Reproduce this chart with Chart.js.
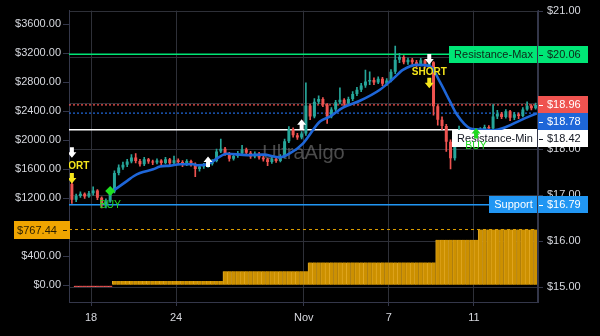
<!DOCTYPE html>
<html>
<head>
<meta charset="utf-8">
<script src="https://cdn.jsdelivr.net/npm/chart.js@4.4.1/dist/chart.umd.min.js"></script>
<style>
  html, body { margin: 0; padding: 0; background: #000; }
  #wrap { width: 600px; height: 336px; }
</style>
</head>
<body>
<div id="wrap"><canvas id="c" width="600" height="336"></canvas></div>
<script>
// ---- axis ticks ----
const xTickVals = [5, 25, 55, 75, 95];
const xTickLabels = ['18', '24', 'Nov', '7', '11'];
const rightTicks = [15, 16, 17, 18, 19, 20, 21];
const leftTicks = [0, 400, 800, 1200, 1600, 2000, 2400, 2800, 3200, 3600];

// ---- price bars (5 bars per session, Oct 17 .. Nov 15) ----
const firstOpen = 17.24;
const closes = [
  16.90, 16.98, 17.03, 16.97, 17.04,
  17.10, 16.94, 16.80, 16.86, 17.08,
  17.48, 17.60, 17.66, 17.73, 17.82,
  17.74, 17.67, 17.78, 17.73, 17.71,
  17.75, 17.70, 17.78, 17.69, 17.76,
  17.72, 17.66, 17.74, 17.67, 17.57,
  17.62, 17.64, 17.68, 17.74, 17.95,
  18.01, 17.90, 17.79, 17.85, 17.91,
  17.99, 17.92, 17.84, 17.90, 17.82,
  17.78, 17.72, 17.79, 17.74, 17.84,
  18.17, 18.43, 18.30, 18.25, 18.34,
  18.95, 18.71, 19.03, 19.09, 18.97,
  18.71, 18.86, 19.02, 19.07, 18.99,
  19.09, 19.20, 19.29, 19.38, 19.47,
  19.50, 19.45, 19.53, 19.42, 19.49,
  19.68, 19.94, 20.00, 19.89, 19.94,
  19.89, 19.84, 19.93, 19.82, 19.89,
  18.93, 18.64, 18.50, 18.16, 17.80,
  18.17, 18.38, 18.28, 18.33, 18.24,
  18.38, 18.43, 18.48, 18.45, 18.71,
  18.77, 18.70, 18.82, 18.68, 18.76,
  18.72, 18.86, 18.94, 18.89, 18.96
];
const highs = [
  17.30, 17.02, 17.07, 17.05, 17.08,
  17.18, 17.12, 16.96, 16.92, 17.12,
  17.53, 17.66, 17.72, 17.78, 17.88,
  17.90, 17.78, 17.82, 17.80, 17.76,
  17.79, 17.77, 17.82, 17.80, 17.85,
  17.79, 17.75, 17.77, 17.76, 17.70,
  17.66, 17.69, 17.71, 17.77, 18.00,
  18.22, 18.04, 17.93, 17.89, 17.95,
  18.08, 18.02, 17.95, 17.94, 17.93,
  17.86, 17.80, 17.82, 17.83, 17.88,
  18.22, 18.49, 18.46, 18.34, 18.38,
  19.44, 18.98, 19.10, 19.16, 19.12,
  18.99, 18.90, 19.06, 19.33, 19.10,
  19.13, 19.25, 19.34, 19.43, 19.72,
  19.68, 19.55, 19.57, 19.56, 19.53,
  19.73, 20.24, 20.08, 20.03, 19.98,
  19.97, 19.93, 19.97, 19.95, 19.93,
  19.90, 18.96, 18.70, 18.54, 18.20,
  18.22, 18.50, 18.41, 18.37, 18.36,
  18.43, 18.47, 18.52, 18.51, 18.97,
  18.84, 18.80, 18.86, 18.84, 18.80,
  18.79, 18.90, 19.03, 18.97, 19.00
];
const lows = [
  16.82, 16.86, 16.95, 16.93, 16.95,
  17.00, 16.90, 16.72, 16.72, 16.84,
  17.05, 17.44, 17.56, 17.62, 17.70,
  17.70, 17.63, 17.64, 17.69, 17.66,
  17.68, 17.66, 17.68, 17.65, 17.67,
  17.68, 17.62, 17.64, 17.63, 17.40,
  17.52, 17.58, 17.60, 17.65, 17.72,
  17.92, 17.86, 17.74, 17.76, 17.82,
  17.88, 17.87, 17.80, 17.81, 17.78,
  17.74, 17.64, 17.69, 17.71, 17.72,
  17.82, 18.14, 18.26, 18.21, 18.22,
  18.30, 18.64, 18.68, 18.99, 18.92,
  18.56, 18.68, 18.82, 18.98, 18.94,
  18.95, 19.05, 19.16, 19.25, 19.34,
  19.40, 19.40, 19.42, 19.38, 19.38,
  19.46, 19.64, 19.88, 19.85, 19.84,
  19.84, 19.78, 19.81, 19.76, 19.79,
  18.74, 18.52, 18.42, 17.95, 17.57,
  17.76, 18.12, 18.22, 18.20, 18.20,
  18.20, 18.33, 18.39, 18.40, 18.42,
  18.66, 18.66, 18.67, 18.62, 18.64,
  18.66, 18.70, 18.84, 18.85, 18.87
];

// ---- trend average (bar position, price) ----
const maX = [9.5, 13.5, 15, 16.5, 19.6, 21.2, 23.6, 26, 29, 30, 32.3, 37, 41.7, 45.4, 49.4, 51.8, 54.8, 58.8, 61.2, 64.2, 68.2, 72.9, 76, 78.3, 81.6, 84.7, 87, 89.4, 91, 94.1, 95.7, 99.5, 102.8, 105.8, 109.8];
const maY = [17.05, 17.31, 17.41, 17.48, 17.56, 17.62, 17.64, 17.67, 17.67, 17.65, 17.67, 17.90, 17.87, 17.88, 17.82, 17.91, 18.12, 18.60, 18.71, 18.90, 19.05, 19.29, 19.53, 19.72, 19.83, 19.80, 19.46, 19.03, 18.75, 18.45, 18.43, 18.41, 18.49, 18.62, 18.78];

// ---- strategy equity, stepped (first bar of each step, value) ----
const equityStart = [0, 1, 10, 36, 56, 86, 96];
const equityValue = [0, -25, 58, 191, 314, 627, 767.44];

// ---- horizontal levels ----
const levelValues = [20.06, 18.96, 18.78, 18.42, 16.79];
const levelNames = ['Resistance-Max', '', '', 'Resistance-Min', 'Support'];
const equityLast = 767.44;

// ---- signal markers ----
const markBar   = [0, 0, 0, 9, 9, 32, 54, 84, 84, 84, 95, 95];
const markPrice = [17.93, 17.63, 17.37, 17.09, 16.79, 17.72, 18.53, 19.96, 19.66, 19.44, 18.34, 18.06];
const markKind  = ['downW', 'short', 'downY', 'diamond', 'buy', 'upW', 'upW', 'downW', 'short', 'downY', 'upG', 'buy'];

// ------------------------------------------------------------------
const FONT = "'Liberation Sans', Arial, sans-serif";
Chart.defaults.font.family = FONT;
Chart.defaults.font.size = 11;

const X_MIN = -0.18, X_MAX = 110.06;
const UP = '#26a69a', DN = '#ef5350';
const GRID = '#2e3038', BORDER = '#34374a', TXT = '#d6d8de';
const levelLine = ['#00e676', '#ef5350', '#1e66d8', '#ffffff', '#2196f3'];
const levelDash = [[], [2, 2], [2, 2], [], []];
const levelFill = ['#00e676', '#ef5350', '#1e66d8', '#ffffff', '#2196f3'];
const levelInk  = ['#0d2618', '#ffffff', '#ffffff', '#131722', '#ffffff'];

const opens = closes.map((c, i) => i === 0 ? firstOpen : closes[i - 1]);
const bodies = closes.map((c, i) => ({ x: i + 0.5, y: [opens[i], c] }));
const wicks = closes.map((c, i) => ({ x: i + 0.5, y: [lows[i], highs[i]] }));
const candleColor = ctx => {
  const i = ctx.dataIndex;
  if (i === undefined) return UP;
  return closes[i] >= opens[i] ? UP : DN;
};

const equity = closes.map((c, i) => {
  let v = 0;
  equityStart.forEach((s, k) => { if (i >= s) v = equityValue[k]; });
  return { x: i + 0.5, y: v };
});

const maData = maX.map((x, i) => ({ x, y: maY[i] }));

const levelSets = levelValues.map((v, i) => ({
  type: 'line',
  data: [{ x: X_MIN, y: v }, { x: X_MAX, y: v }],
  yAxisID: 'yR',
  borderColor: levelLine[i],
  borderWidth: (i === 1 || i === 2) ? 1.2 : 1.6,
  borderDash: levelDash[i],
  pointRadius: 0,
  order: 8
}));

const watermark = {
  id: 'watermark',
  beforeDatasetsDraw(chart) {
    const { ctx, chartArea: a } = chart;
    ctx.save();
    ctx.font = '20px ' + FONT;
    ctx.fillStyle = 'rgba(125,125,125,0.6)';
    ctx.textAlign = 'center';
    ctx.textBaseline = 'middle';
    ctx.fillText('UltraAlgo', (a.left + a.right) / 2, (a.top + a.bottom) / 2 - 3);
    ctx.restore();
  }
};

function arrow(ctx, x, y, dir, color) {
  // dir: 1 points down, -1 points up
  ctx.fillStyle = color;
  ctx.beginPath();
  ctx.moveTo(x - 2, y - dir * 5);
  ctx.lineTo(x + 2, y - dir * 5);
  ctx.lineTo(x + 2, y);
  ctx.lineTo(x + 4.5, y);
  ctx.lineTo(x, y + dir * 5.5);
  ctx.lineTo(x - 4.5, y);
  ctx.lineTo(x - 2, y);
  ctx.closePath();
  ctx.fill();
}

const overlay = {
  id: 'overlay',
  afterDraw(chart) {
    const { ctx, chartArea: a, scales } = chart;
    const yR = scales.yR, yL = scales.yL, xs = scales.x;
    ctx.save();
    ctx.font = '11px ' + FONT;
    ctx.textBaseline = 'middle';

    // level tags on the price scale, stacked so they never overlap
    const H = 17;
    const idx = levelValues.map((v, i) => i)
      .sort((p, q) => yR.getPixelForValue(levelValues[p]) - yR.getPixelForValue(levelValues[q]));
    const tops = [];
    let prevBottom = -1e9;
    idx.forEach(i => {
      let t = Math.round(yR.getPixelForValue(levelValues[i]) - H / 2);
      if (t < prevBottom) t = prevBottom;
      tops[i] = t;
      prevBottom = t + H;
    });
    levelValues.forEach((v, i) => {
      const t = tops[i];
      ctx.fillStyle = levelFill[i];
      ctx.fillRect(a.right, t, 50, H);
      if (levelNames[i]) {
        const w = Math.round(ctx.measureText(levelNames[i]).width + 10);
        ctx.fillRect(a.right - w, t, w, H);
        ctx.fillStyle = levelInk[i];
        ctx.textAlign = 'center';
        ctx.fillText(levelNames[i], a.right - w / 2, t + H / 2 + 0.5);
      }
      ctx.fillStyle = levelInk[i];
      ctx.textAlign = 'left';
      ctx.fillText('$' + v.toFixed(2), a.right + 9, t + H / 2 + 0.5);
      ctx.fillRect(a.right + 1, Math.round(t + H / 2), 4, 1);
    });

    // price-scale border drawn over the tags
    ctx.fillStyle = BORDER;
    ctx.fillRect(Math.round(a.right) - 1, a.top, 1, a.bottom - a.top);

    // equity tag on the left scale
    const ey = Math.round(yL.getPixelForValue(equityLast));
    ctx.fillStyle = '#f0a500';
    ctx.fillRect(14, ey - 9, a.left - 14 + 1, 18);
    ctx.fillStyle = '#2a1e00';
    ctx.textAlign = 'center';
    ctx.fillText('$' + equityLast.toFixed(2), 37, ey + 0.5);
    ctx.fillRect(a.left - 6, ey, 4, 1);

    // signal markers
    ctx.beginPath();
    ctx.rect(a.left, a.top, a.right - a.left, a.bottom - a.top);
    ctx.clip();
    markBar.forEach((b, k) => {
      const x = xs.getPixelForValue(b + 0.5);
      const y = yR.getPixelForValue(markPrice[k]);
      const kind = markKind[k];
      if (kind === 'downW') arrow(ctx, x, y, 1, '#ffffff');
      else if (kind === 'downY') arrow(ctx, x, y, 1, '#f5e51b');
      else if (kind === 'upW') arrow(ctx, x, y, -1, '#ffffff');
      else if (kind === 'upG') arrow(ctx, x, y, -1, '#1fd81f');
      else if (kind === 'diamond') {
        ctx.fillStyle = '#1fe01f';
        ctx.beginPath();
        ctx.moveTo(x, y - 5); ctx.lineTo(x + 5, y); ctx.lineTo(x, y + 5); ctx.lineTo(x - 5, y);
        ctx.closePath(); ctx.fill();
      } else if (kind === 'short') {
        ctx.font = 'bold 10px ' + FONT;
        ctx.fillStyle = '#f5e51b';
        ctx.textAlign = 'center';
        ctx.fillText('SHORT', x, y);
      } else if (kind === 'buy') {
        ctx.font = '10.5px ' + FONT;
        ctx.fillStyle = '#1fd81f';
        ctx.textAlign = 'center';
        ctx.fillText('BUY', x, y);
      }
    });
    ctx.restore();
  }
};

new Chart(document.getElementById('c'), {
  type: 'bar',
  data: {
    datasets: [
      {
        type: 'bar',
        data: equity,
        yAxisID: 'yL',
        grouped: false,
        barPercentage: 1,
        categoryPercentage: 1,
        backgroundColor: ctx => (ctx.raw && ctx.raw.y < 0) ? '#d64848' : '#cc9000',
        borderColor: ctx => (ctx.raw && ctx.raw.y < 0) ? '#e86a6a' : '#e2a823',
        borderWidth: { left: 1, top: 0, right: 0, bottom: 0 },
        borderSkipped: false,
        order: 10
      },
      {
        type: 'line',
        data: [{ x: X_MIN, y: equityLast }, { x: X_MAX, y: equityLast }],
        yAxisID: 'yL',
        borderColor: '#e0a000',
        borderWidth: 1,
        borderDash: [3, 3],
        pointRadius: 0,
        order: 9
      },
      ...levelSets,
      {
        type: 'bar',
        data: wicks,
        yAxisID: 'yR',
        grouped: false,
        barThickness: 1,
        backgroundColor: candleColor,
        order: 6
      },
      {
        type: 'bar',
        data: bodies,
        yAxisID: 'yR',
        grouped: false,
        barPercentage: 0.7,
        categoryPercentage: 1,
        minBarLength: 1,
        backgroundColor: candleColor,
        order: 5
      },
      {
        type: 'line',
        data: maData,
        yAxisID: 'yR',
        borderColor: '#1e66d8',
        borderWidth: 2.6,
        pointRadius: 0,
        cubicInterpolationMode: 'monotone',
        order: 1
      }
    ]
  },
  options: {
    responsive: false,
    devicePixelRatio: 1,
    animation: false,
    layout: { padding: { top: 8, left: 0, right: 0, bottom: 0 } },
    plugins: { legend: { display: false }, tooltip: { enabled: false } },
    scales: {
      x: {
        type: 'linear',
        min: X_MIN,
        max: X_MAX,
        offset: false,
        grid: { color: GRID, offset: false, tickLength: 4, tickColor: BORDER },
        border: { color: BORDER },
        ticks: {
          color: TXT, padding: 5, maxRotation: 0, autoSkip: false,
          callback: v => { const k = xTickVals.indexOf(v); return k < 0 ? '' : xTickLabels[k]; }
        },
        afterBuildTicks: s => { s.ticks = xTickVals.map(v => ({ value: v })); },
        afterFit: s => { s.height = 34; }
      },
      yL: {
        type: 'linear',
        position: 'left',
        min: -232,
        max: 3787,
        grid: { drawOnChartArea: false, tickLength: 6, color: BORDER },
        border: { color: BORDER },
        ticks: { color: TXT, padding: 2, callback: v => '$' + v.toFixed(2) },
        afterBuildTicks: s => { s.ticks = leftTicks.map(v => ({ value: v })); },
        afterFit: s => { s.width = 69; }
      },
      yR: {
        type: 'linear',
        position: 'right',
        min: 14.677,
        max: 21.01,
        grid: { color: GRID, tickLength: 5, tickColor: BORDER },
        border: { color: BORDER },
        ticks: { color: TXT, padding: 4, callback: v => '$' + v.toFixed(2) },
        afterBuildTicks: s => { s.ticks = rightTicks.map(v => ({ value: v })); },
        afterFit: s => { s.width = 62; }
      }
    }
  },
  plugins: [watermark, overlay]
});
</script>
</body>
</html>
